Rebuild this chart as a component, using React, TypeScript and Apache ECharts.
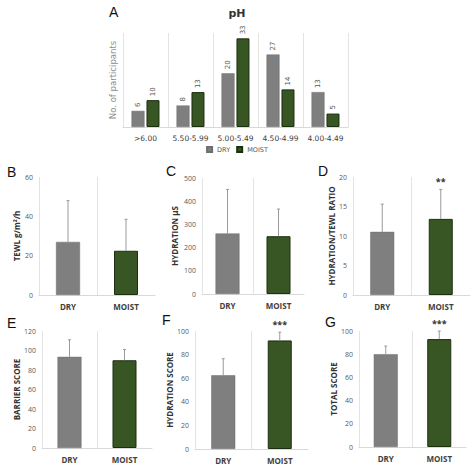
import React, { useEffect, useRef } from 'react';
import * as echarts from 'echarts';

// panel A – pH distribution
const phCategories = ['>6.00', '5.50-5.99', '5.00-5.49', '4.50-4.99', '4.00-4.49'];
const phDry = [6, 8, 20, 27, 13];
const phMoist = [10, 13, 33, 14, 5];

// panels B-G – DRY vs MOIST
const groups = ['DRY', 'MOIST'];
const tewlMean = [27, 22.5];
const tewlErr = [48, 38.5];
const hydMean = [261, 249];
const hydErr = [451, 366];
const ratioMean = [10.7, 12.9];
const ratioErr = [15.4, 17.9];
const barrierMean = [93.5, 90];
const barrierErr = [111, 101];
const hydScoreMean = [62.5, 92];
const hydScoreErr = [76.5, 99];
const totalMean = [80, 93];
const totalErr = [87, 100];
const ratioSig = ['', '**'];
const hydScoreSig = ['', '***'];
const totalSig = ['', '***'];

const GRAY = '#7f7f7f';
const GREEN = '#375623';
const FONT = "'Open Sans', sans-serif";

const panels = [
  { letter: 'B', lx: 7, ly: 172, name: 'TEWL g/m²/h', mean: tewlMean, err: tewlErr, sig: ['', ''], max: 60, interval: 20, grid: { left: 39, top: 177, width: 116, height: 118 }, gap: 19 },
  { letter: 'C', lx: 166, ly: 171, name: 'HYDRATION µS', mean: hydMean, err: hydErr, sig: ['', ''], max: 500, interval: 100, grid: { left: 202, top: 178, width: 102, height: 116 }, gap: 24 },
  { letter: 'D', lx: 318, ly: 171, name: 'HYDRATION/TEWL RATIO', mean: ratioMean, err: ratioErr, sig: ratioSig, max: 20, interval: 5, grid: { left: 353, top: 177, width: 117, height: 118 }, gap: 16 },
  { letter: 'E', lx: 7, ly: 323, name: 'BARRIER SCORE', mean: barrierMean, err: barrierErr, sig: ['', ''], max: 120, interval: 20, grid: { left: 42, top: 331, width: 110, height: 117 }, gap: 20 },
  { letter: 'F', lx: 162, ly: 320, name: 'HYDRATION SCORE', mean: hydScoreMean, err: hydScoreErr, sig: hydScoreSig, max: 100, interval: 20, grid: { left: 195, top: 331, width: 113, height: 118 }, gap: 19 },
  { letter: 'G', lx: 325, ly: 322, name: 'TOTAL SCORE', mean: totalMean, err: totalErr, sig: totalSig, max: 100, interval: 20, grid: { left: 359, top: 331, width: 107, height: 116 }, gap: 21 },
];

const App: React.FC = () => {
  const chartRef: any = useRef(null);

  useEffect(() => {
    const chart = echarts.init(chartRef.current, null, { renderer: 'svg' });

    const grids: any[] = [{ left: 123, top: 33, width: 225, height: 94 }];
    const xAxes: any[] = [{
      gridIndex: 0,
      type: 'category',
      data: phCategories,
      axisTick: { show: false },
      axisLine: { lineStyle: { color: '#d9d9d9' } },
      splitLine: { show: true, lineStyle: { color: '#e3e3e3' } },
      axisLabel: { interval: 0, color: '#404040', fontSize: 7.5, fontFamily: 'DejaVu Sans', margin: 7 },
    }];
    const yAxes: any[] = [{
      gridIndex: 0,
      type: 'value',
      min: 0,
      max: 35,
      axisLabel: { show: false },
      axisTick: { show: false },
      axisLine: { show: false },
      splitLine: { show: false },
      name: 'No. of participants',
      nameLocation: 'middle',
      nameGap: 6,
      nameTextStyle: { color: '#8c8c8c', fontSize: 8.5, fontFamily: 'DejaVu Sans' },
    }];
    const series: any[] = [
      {
        name: 'DRY', type: 'bar', xAxisIndex: 0, yAxisIndex: 0, data: phDry, barWidth: 13, barGap: '15%',
        itemStyle: { color: GRAY, borderColor: '#6e6e6e', borderWidth: 0.5 },
        label: { show: true, position: 'top', rotate: 90, align: 'left', verticalAlign: 'middle', distance: 4, color: '#595959', fontSize: 7, fontFamily: 'DejaVu Sans' },
      },
      {
        name: 'MOIST', type: 'bar', xAxisIndex: 0, yAxisIndex: 0, data: phMoist, barWidth: 13,
        itemStyle: { color: GREEN, borderColor: '#1c2e10', borderWidth: 1 },
        label: { show: true, position: 'top', rotate: 90, align: 'left', verticalAlign: 'middle', distance: 4, color: '#595959', fontSize: 7, fontFamily: 'DejaVu Sans' },
      },
    ];
    const graphics: any[] = [
      { type: 'text', left: 109, top: 5, style: { text: 'A', fontSize: 14, fontFamily: 'Liberation Sans', fill: '#111' } },
      { type: 'text', left: 'center', top: 8, style: { text: 'pH', fontSize: 11, fontWeight: 'bold', fontFamily: 'DejaVu Sans', fill: '#333' } },
    ];

    panels.forEach((p, k) => {
      const gi = k + 1;
      grids.push(p.grid);
      xAxes.push({
        gridIndex: gi,
        type: 'category',
        data: groups,
        axisTick: { show: false },
        axisLine: { lineStyle: { color: '#d9d9d9' } },
        splitLine: { show: true, showMaxLine: false, lineStyle: { color: '#e3e3e3' } },
        axisLabel: { color: '#404040', fontSize: 8, fontWeight: 'bold', fontFamily: FONT, margin: 7 },
      });
      yAxes.push({
        gridIndex: gi,
        type: 'value',
        min: 0,
        max: p.max,
        interval: p.interval,
        axisTick: { show: false },
        axisLine: { show: false },
        splitLine: { show: false },
        axisLabel: { color: '#595959', fontSize: 7, fontFamily: FONT, margin: 6 },
        name: p.name,
        nameLocation: 'middle',
        nameGap: p.gap,
        nameTextStyle: { color: '#333', fontSize: 8, fontWeight: 'bold', fontFamily: FONT },
      });
      series.push({
        name: p.letter,
        type: 'bar',
        xAxisIndex: gi,
        yAxisIndex: gi,
        barWidth: 24,
        data: p.mean.map((v, i) => ({
          value: v,
          itemStyle: i === 0
            ? { color: GRAY, borderColor: '#6e6e6e', borderWidth: 0.5 }
            : { color: GREEN, borderColor: '#1c2e10', borderWidth: 1 },
        })),
      });
      series.push({
        name: p.letter + '-err',
        type: 'custom',
        xAxisIndex: gi,
        yAxisIndex: gi,
        z: 5,
        encode: { x: 0, y: [1, 2] },
        data: p.mean.map((v, i) => [i, v, p.err[i]]),
        renderItem: (params: any, api: any) => {
          const i = api.value(0);
          const base = api.coord([i, api.value(1)]);
          const top = api.coord([i, api.value(2)]);
          const children: any[] = [
            { type: 'line', shape: { x1: base[0], y1: base[1], x2: top[0], y2: top[1] }, style: { stroke: '#9a9a9a', lineWidth: 1 } },
            { type: 'line', shape: { x1: top[0] - 1.5, y1: top[1], x2: top[0] + 1.5, y2: top[1] }, style: { stroke: '#9a9a9a', lineWidth: 1 } },
          ];
          const s = p.sig[params.dataIndex];
          if (s) {
            children.push({
              type: 'text',
              x: top[0],
              y: top[1] - 3,
              style: { text: s, textAlign: 'center', textVerticalAlign: 'bottom', fontSize: 9, fontWeight: 'bold', fill: '#333', fontFamily: FONT },
            });
          }
          return { type: 'group', children };
        },
      });
      graphics.push({ type: 'text', left: p.lx, top: p.ly - 7, style: { text: p.letter, fontSize: 14, fontFamily: 'Liberation Sans', fill: '#111' } });
    });

    chart.setOption({
      animation: false,
      backgroundColor: '#ffffff',
      grid: grids,
      xAxis: xAxes,
      yAxis: yAxes,
      series,
      graphic: graphics,
      legend: {
        data: ['DRY', 'MOIST'],
        top: 146,
        left: 'center',
        icon: 'rect',
        itemWidth: 5,
        itemHeight: 5,
        itemGap: 6,
        padding: 0,
        textStyle: { color: '#595959', fontSize: 6.5, fontFamily: 'DejaVu Sans' },
      },
    });

    return () => {
      chart.dispose();
    };
  }, []);

  return <div ref={chartRef} style={{ position: 'absolute', left: 0, top: 0, width: 474, height: 469 }}></div>;
};

export default App;
